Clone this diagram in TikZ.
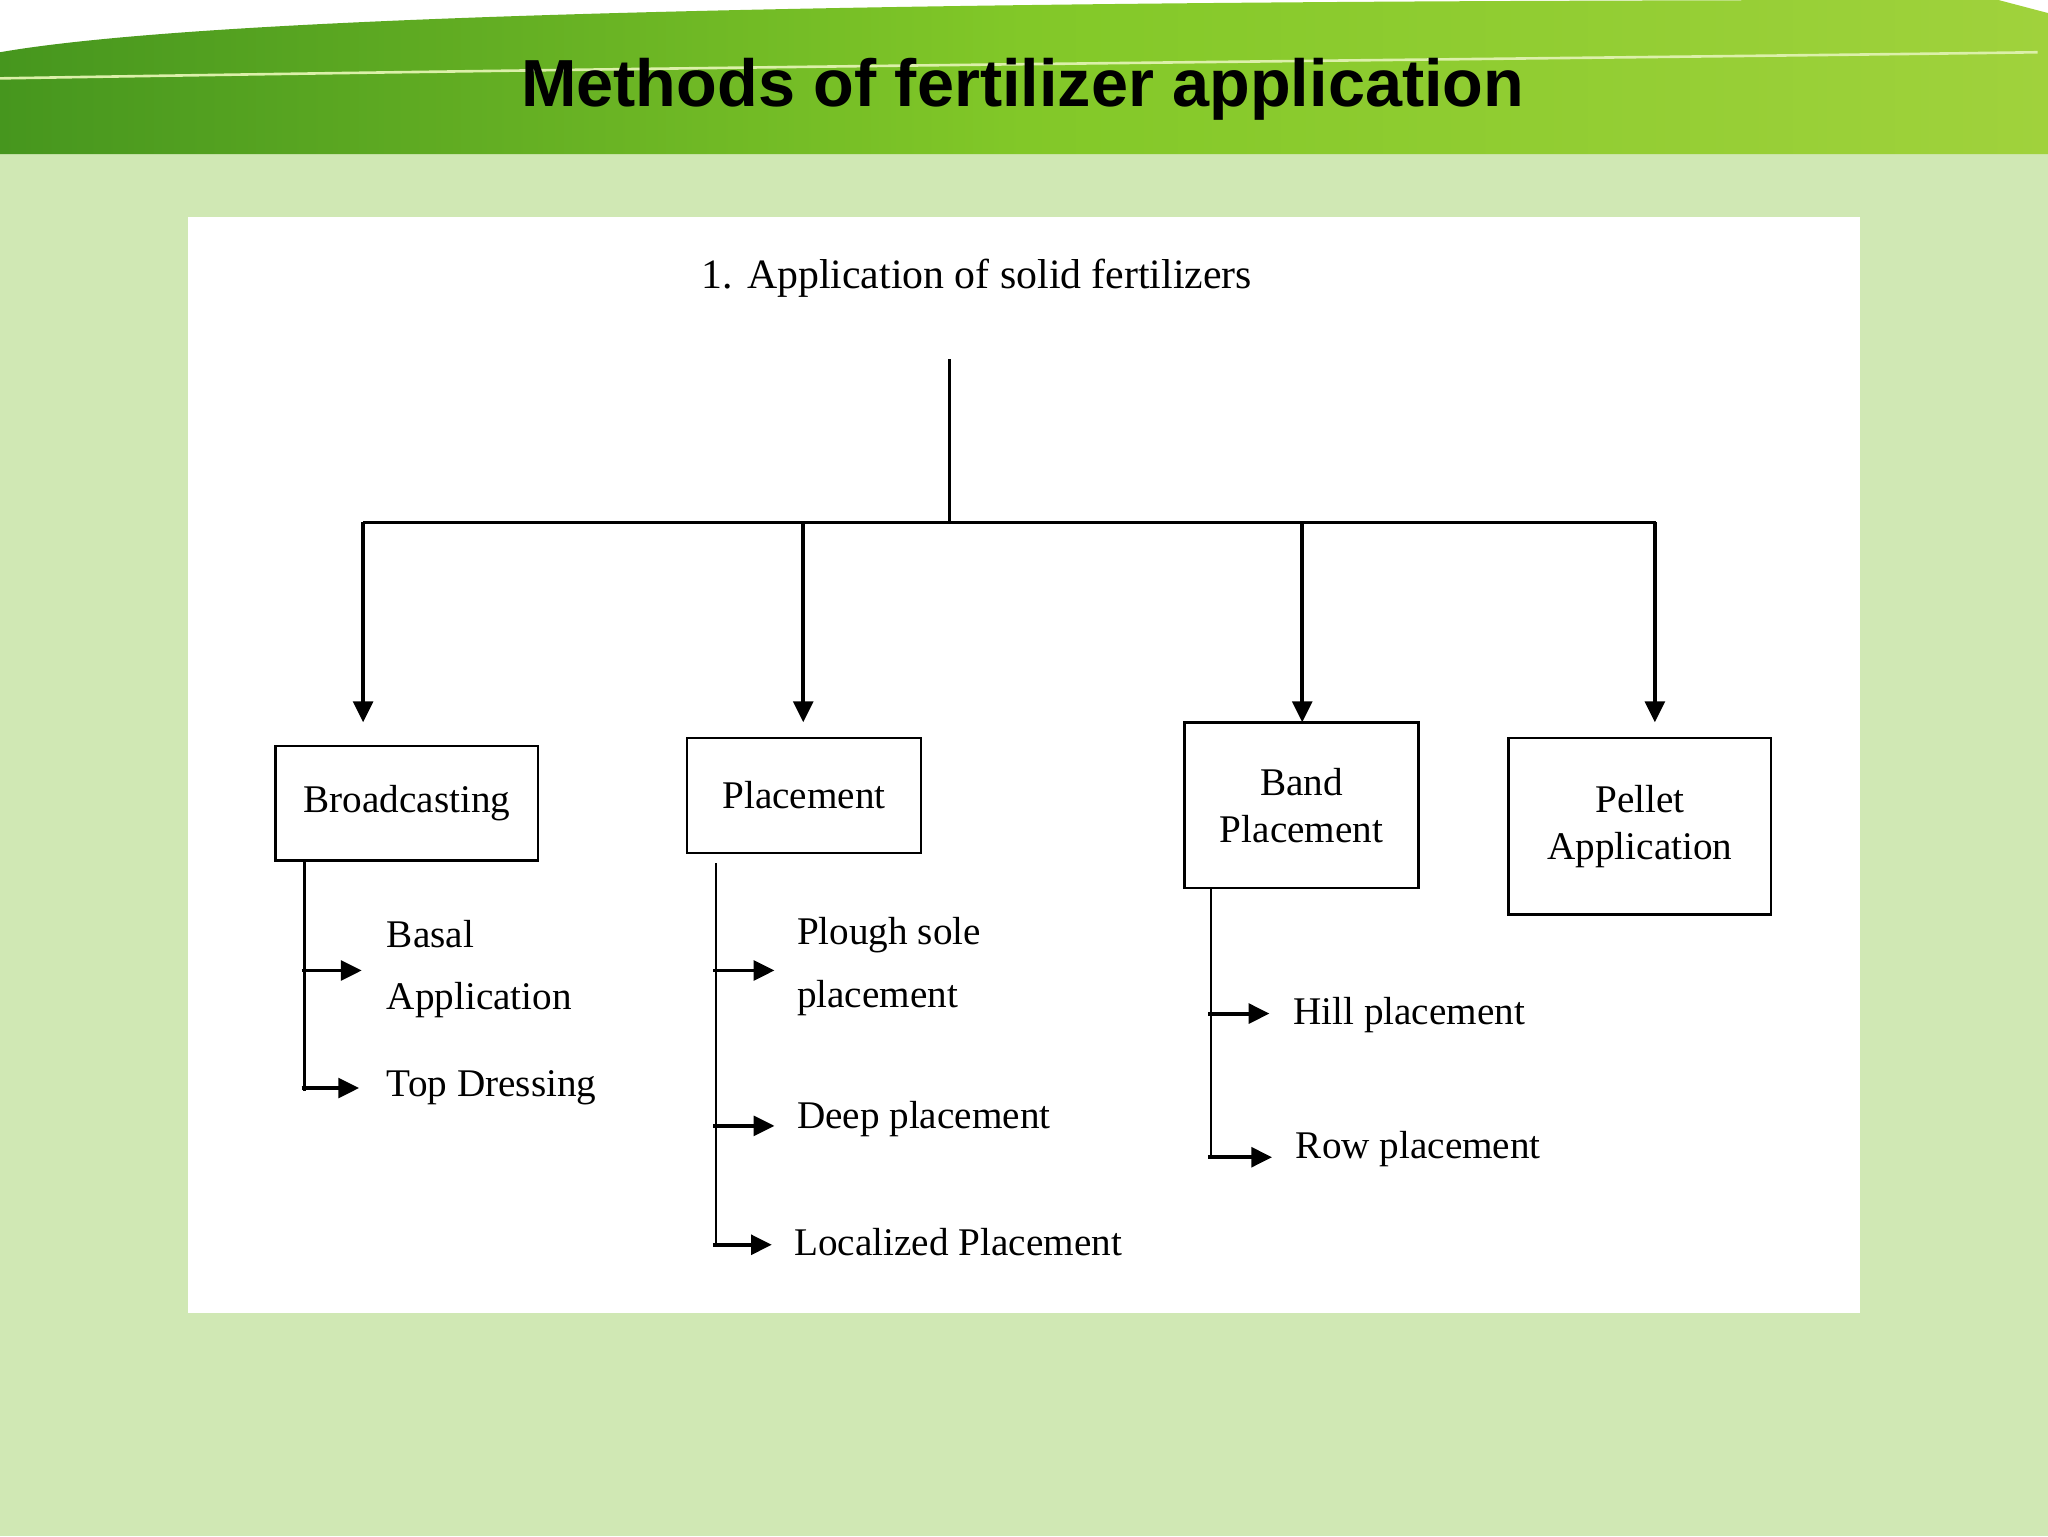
\documentclass[tikz,border=0pt]{standalone}
\usepackage{fontspec}
\setmainfont{Liberation Serif}
\newfontfamily\titlefont{Liberation Sans}
\usetikzlibrary{arrows.meta}
\definecolor{bggreen}{RGB}{208,232,180}
\definecolor{leafA}{RGB}{70,150,30}
\definecolor{leafB}{RGB}{130,200,40}
\definecolor{leafC}{RGB}{160,210,60}
\definecolor{vein}{RGB}{220,240,170}
\begin{document}
\begin{tikzpicture}[x=1pt,y=-1pt,
  conn/.style={line width=3pt},
  arr/.style={line width=3pt,-{Triangle[length=16pt,width=15pt]}},
  sub/.style={line width=1.8pt},
  box/.style={draw,line width=2pt,align=center,font=\fontsize{30}{36}\selectfont,inner sep=0pt},
  lbl/.style={anchor=west,align=left,font=\fontsize{30}{48}\selectfont,inner sep=0pt}]
\useasboundingbox (0,0) rectangle (1568,1176);
\fill[bggreen] (0,0) rectangle (1568,1176);
\fill[white] (0,0) rectangle (1568,118);
\shade[left color=leafA,right color=leafC,middle color=leafB]
 (0,40) .. controls (200,5) and (900,0) .. (1530,0) -- (1568,10) -- (1568,118) -- (0,118) -- (0,75) -- cycle;
\draw[line width=2pt,vein] (0,60) .. controls (600,50) and (1200,45) .. (1560,40);
\node[font=\titlefont\bfseries\fontsize{51}{55}\selectfont] (title) at (783,68) {Methods of fertilizer application};
\fill[white] (144,166) rectangle (1424,1005);
\node[font=\fontsize{32}{36}\selectfont] (head) at (748,213) {1. Application of solid fertilizers};
\coordinate (top) at (727,275);
\coordinate (mid) at (727,400);
\coordinate (l) at (278,400);
\coordinate (r) at (1268,400);
\draw[sub] (top) -- (mid);
\draw[conn] (l) -- (r);
\node[box,minimum width=201pt,minimum height=88pt] (bc) at (311.5,615) {Broadcasting};
\node[box,minimum width=179pt,minimum height=88pt] (pl) at (615.5,609) {Placement};
\node[box,minimum width=179pt,minimum height=127pt] (bp) at (996.5,616.5) {Band\\Placement};
\node[box,minimum width=201pt,minimum height=135pt] (pa) at (1255.5,632.5) {Pellet\\Application};
\draw[arr] (278,400) -- (278,553);
\draw[arr] (615,400) -- (615,553);
\draw[arr] (997,400) -- (997,553);
\draw[arr] (1267,400) -- (1267,553);
\node[lbl] (basal) at (296,742) {Basal\\Application};
\node[lbl] (topdress) at (296,833) {Top Dressing};
\draw[sub] (233,659) -- (233,835);
\draw[arr] (231,743) -- (277,743);
\draw[arr] (231,833) -- (275,833);
\node[lbl] (plough) at (610,740) {Plough sole\\placement};
\node[lbl] (deep) at (610,857) {Deep placement};
\node[lbl] (local) at (608,951) {Localized Placement};
\draw[sub] (548,661) -- (548,953);
\draw[arr] (546,743) -- (593,743);
\draw[arr] (546,862) -- (593,862);
\draw[arr] (546,953) -- (591,953);
\node[lbl] (hill) at (990,777) {Hill placement};
\node[lbl] (row) at (992,880) {Row placement};
\draw[sub] (927,680) -- (927,886);
\draw[arr] (925,776) -- (972,776);
\draw[arr] (925,886) -- (974,886);
\end{tikzpicture}
\end{document}
